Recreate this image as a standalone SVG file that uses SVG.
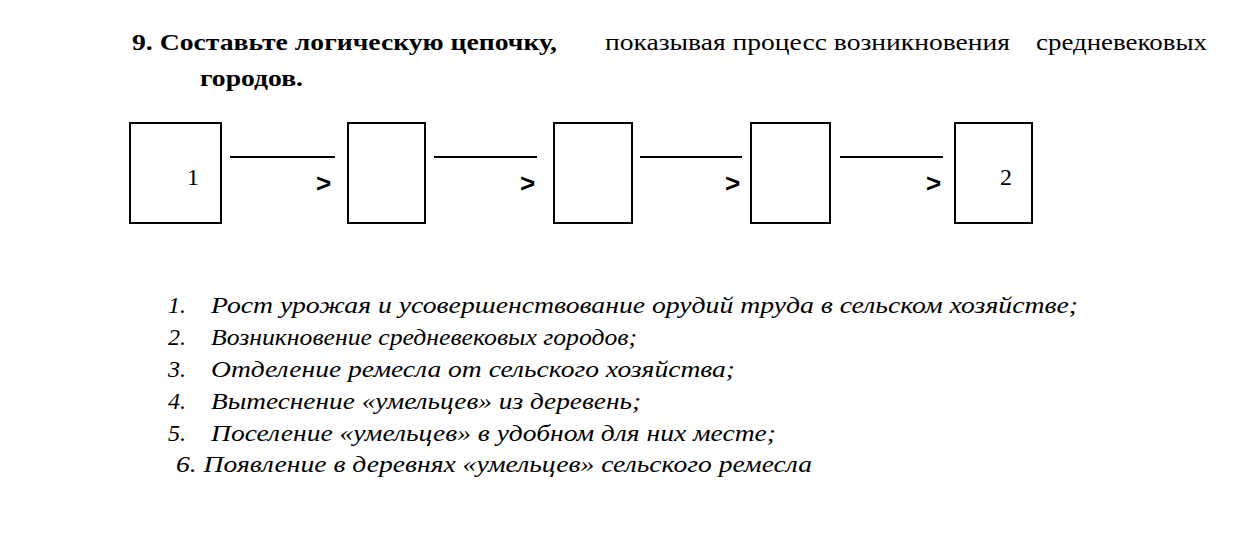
<svg xmlns="http://www.w3.org/2000/svg" width="1235" height="540" viewBox="0 0 1235 540">
<style>
.b{fill:none;stroke:#000;stroke-width:2}
.t{font-family:"Times New Roman","Liberation Serif","DejaVu Serif",serif;font-size:24px}
.g{font-family:"Liberation Sans",sans-serif;font-size:26px;font-weight:bold}
.i{font-family:"Times New Roman","Liberation Serif","DejaVu Serif",serif;font-size:24px;font-style:italic}
</style>
<rect width="1235" height="540" fill="#fff"/>
<text x="132" y="50" class="t" font-weight="bold" textLength="425" lengthAdjust="spacingAndGlyphs">9. Составьте логическую цепочку,</text>
<text x="605" y="50" class="t" textLength="405" lengthAdjust="spacingAndGlyphs">показывая процесс возникновения</text>
<text x="1036" y="50" class="t" textLength="171" lengthAdjust="spacingAndGlyphs">средневековых</text>
<text x="200" y="86" class="t" font-weight="bold" textLength="103" lengthAdjust="spacingAndGlyphs">городов.</text>
<g id="n1"><rect x="130" y="123" width="91" height="100" class="b"/><text x="187" y="185" class="t">1</text></g>
<g id="n2"><rect x="348" y="123" width="77" height="100" class="b"/></g>
<g id="n3"><rect x="554" y="123" width="78" height="100" class="b"/></g>
<g id="n4"><rect x="751" y="123" width="79" height="100" class="b"/></g>
<g id="n5"><rect x="955" y="123" width="77" height="100" class="b"/><text x="1000" y="185" class="t">2</text></g>
<g id="edges" stroke="#000" stroke-width="2">
<line x1="230" y1="157" x2="335" y2="157"/><text x="316" y="192" class="g" stroke="none">&gt;</text>
<line x1="434" y1="157" x2="537" y2="157"/><text x="520" y="192" class="g" stroke="none">&gt;</text>
<line x1="640" y1="157" x2="742" y2="157"/><text x="725" y="192" class="g" stroke="none">&gt;</text>
<line x1="840" y1="157" x2="943" y2="157"/><text x="926" y="192" class="g" stroke="none">&gt;</text>
</g>
<g class="i">
<text x="168" y="313">1.</text><text x="211" y="313" textLength="867" lengthAdjust="spacingAndGlyphs">Рост урожая и усовершенствование орудий труда в сельском хозяйстве;</text>
<text x="168" y="345">2.</text><text x="211" y="345" textLength="426" lengthAdjust="spacingAndGlyphs">Возникновение средневековых городов;</text>
<text x="168" y="377">3.</text><text x="211" y="377" textLength="524" lengthAdjust="spacingAndGlyphs">Отделение ремесла от сельского хозяйства;</text>
<text x="168" y="409">4.</text><text x="211" y="409" textLength="430" lengthAdjust="spacingAndGlyphs">Вытеснение «умельцев» из деревень;</text>
<text x="168" y="441">5.</text><text x="211" y="441" textLength="565" lengthAdjust="spacingAndGlyphs">Поселение «умельцев» в удобном для них месте;</text>
<text x="176" y="472" textLength="636" lengthAdjust="spacingAndGlyphs">6. Появление в деревнях «умельцев» сельского ремесла</text>
</g>
</svg>
